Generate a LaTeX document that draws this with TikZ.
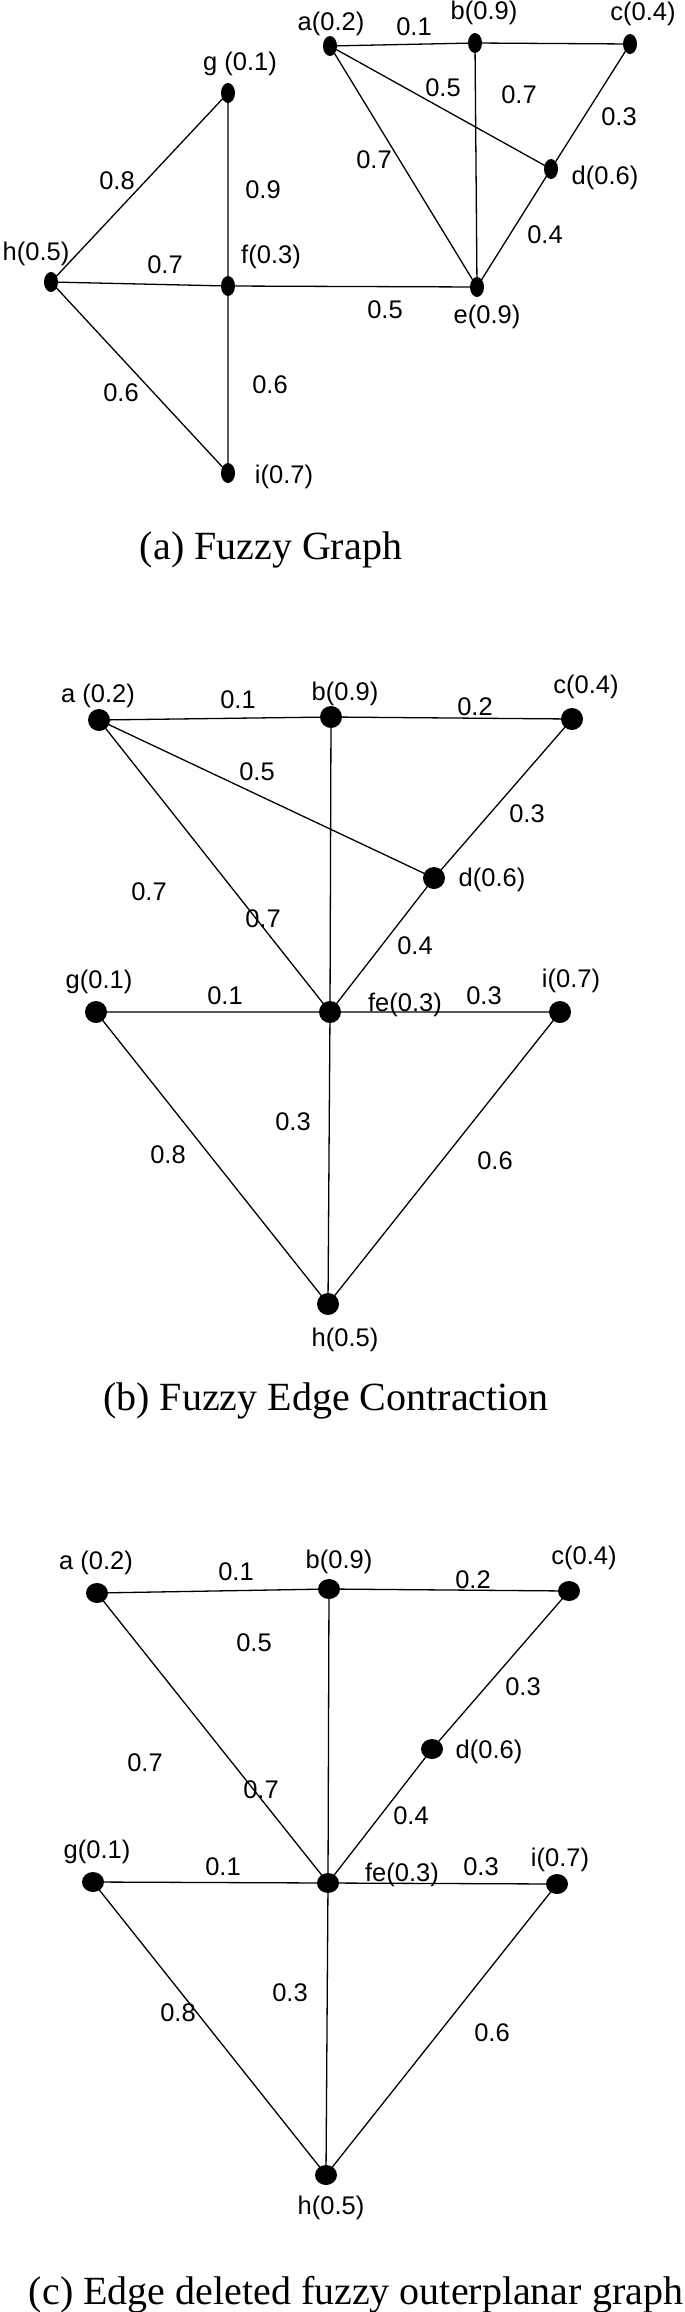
\documentclass[tikz,border=0pt]{standalone}
\usepackage{fontspec}
\setmainfont{Liberation Serif}
\newfontfamily\lblfont{Liberation Sans}
\usetikzlibrary{shapes.geometric}
\begin{document}
\begin{tikzpicture}[x=1pt,y=-1pt,
 edge/.style={line width=1.3pt},
 dotA/.style={ellipse, fill=black, minimum width=14pt, minimum height=20pt, inner sep=0pt},
 dotB/.style={circle, fill=black, minimum size=22pt, inner sep=0pt},
 dotC/.style={ellipse, fill=black, minimum width=22pt, minimum height=20pt, inner sep=0pt},
 lbl/.style={font=\lblfont\fontsize{25.5}{30}\selectfont, inner sep=0pt},
 captext/.style={font=\fontsize{40}{48}\selectfont, inner sep=0pt, anchor=base}]
\useasboundingbox (0,0) rectangle (685,2312);

% ---------------- Panel (a)
\coordinate (pa) at (330,46);
\coordinate (pb) at (475,43);
\coordinate (pc) at (630,44);
\coordinate (pd) at (551,169);
\coordinate (pe) at (477,287);
\coordinate (pf) at (228,286);
\coordinate (pg) at (228,93);
\coordinate (ph) at (51,282);
\coordinate (pi) at (228,473);
\draw[edge] (pa) -- (pb) -- (pc) -- (pd) -- (pe) -- (pf) -- (ph) -- (pg) -- (pf) -- (pi) -- (ph);
\draw[edge] (pa) -- (pe);
\draw[edge] (pa) -- (pd);
\draw[edge] (pb) -- (pe);
\foreach \n in {pa,pb,pc,pd,pe,pf,pg,ph,pi} \node[dotA] (d\n) at (\n) {};

\node[lbl] (la) at (331,24) {a(0.2)};
\node[lbl] (lb) at (484,13) {b(0.9)};
\node[lbl] (lc) at (643,14) {c(0.4)};
\node[lbl] (ld) at (605,178) {d(0.6)};
\node[lbl] (le) at (487,317) {e(0.9)};
\node[lbl] (lf) at (271,257) {f(0.3)};
\node[lbl] (lg) at (240,64) {g (0.1)};
\node[lbl] (lh) at (36,254) {h(0.5)};
\node[lbl] (li) at (284,477) {i(0.7)};
\node[lbl] (wab) at (414,27) {0.1};
\node[lbl] (wad) at (443,88) {0.5};
\node[lbl] (wbe) at (519,95) {0.7};
\node[lbl] (wcd) at (619,117) {0.3};
\node[lbl] (wae) at (374,160) {0.7};
\node[lbl] (wde) at (545,235) {0.4};
\node[lbl] (whg) at (117,181) {0.8};
\node[lbl] (wgf) at (263,190) {0.9};
\node[lbl] (whf) at (165,265) {0.7};
\node[lbl] (wfe) at (385,310) {0.5};
\node[lbl] (whi) at (121,393) {0.6};
\node[lbl] (wfi) at (270,385) {0.6};
\node[captext] (capA) at (271,559) {(a) Fuzzy Graph};

% ---------------- Panel (b)
\coordinate (qa) at (99,720);
\coordinate (qb) at (331,717);
\coordinate (qc) at (572,719);
\coordinate (qd) at (434,878);
\coordinate (qg) at (96,1012);
\coordinate (qfe) at (330,1012);
\coordinate (qi) at (560,1012);
\coordinate (qh) at (328,1304);
\draw[edge] (qa) -- (qb) -- (qc) -- (qd) -- (qfe);
\draw[edge] (qa) -- (qd);
\draw[edge] (qa) -- (qfe);
\draw[edge] (qb) -- (qfe);
\draw[edge] (qg) -- (qfe) -- (qi) -- (qh) -- (qg);
\draw[edge] (qfe) -- (qh);
\foreach \n in {qa,qb,qc,qd,qg,qfe,qi,qh} \node[dotB] (d\n) at (\n) {};

\node[lbl] (ma) at (98,696) {a (0.2)};
\node[lbl] (mb) at (345,694) {b(0.9)};
\node[lbl] (mc) at (586,687) {c(0.4)};
\node[lbl] (md) at (492,880) {d(0.6)};
\node[lbl] (mg) at (99,982) {g(0.1)};
\node[lbl] (mfe) at (405,1005) {fe(0.3)};
\node[lbl] (mi) at (571,981) {i(0.7)};
\node[lbl] (mh) at (345,1340) {h(0.5)};
\node[lbl] (vab) at (238,700) {0.1};
\node[lbl] (vbc) at (475,707) {0.2};
\node[lbl] (vad) at (257,772) {0.5};
\node[lbl] (vcd) at (527,814) {0.3};
\node[lbl] (vl) at (149,892) {0.7};
\node[lbl] (vafe) at (263,919) {0.7};
\node[lbl] (vdfe) at (415,946) {0.4};
\node[lbl] (vgfe) at (225,996) {0.1};
\node[lbl] (vfei) at (484,996) {0.3};
\node[lbl] (vfeh) at (293,1122) {0.3};
\node[lbl] (vgh) at (168,1155) {0.8};
\node[lbl] (vih) at (495,1161) {0.6};
\node[captext] (capB) at (326,1410) {(b) Fuzzy Edge Contraction};

% ---------------- Panel (c)
\coordinate (ra) at (97,1593);
\coordinate (rb) at (329,1589);
\coordinate (rc) at (569,1591);
\coordinate (rd) at (432,1749);
\coordinate (rg) at (93,1882);
\coordinate (rfe) at (328,1883);
\coordinate (ri) at (557,1884);
\coordinate (rh) at (326,2175);
\draw[edge] (ra) -- (rb) -- (rc) -- (rd) -- (rfe);
\draw[edge] (ra) -- (rfe);
\draw[edge] (rb) -- (rfe);
\draw[edge] (rg) -- (rfe) -- (ri) -- (rh) -- (rg);
\draw[edge] (rfe) -- (rh);
\foreach \n in {ra,rb,rc,rd,rg,rfe,ri,rh} \node[dotC] (d\n) at (\n) {};

\node[lbl] (na) at (96,1563) {a (0.2)};
\node[lbl] (nb) at (339,1562) {b(0.9)};
\node[lbl] (nc) at (584,1558) {c(0.4)};
\node[lbl] (nd) at (489,1752) {d(0.6)};
\node[lbl] (ng) at (97,1852) {g(0.1)};
\node[lbl] (nfe) at (402,1875) {fe(0.3)};
\node[lbl] (ni) at (560,1860) {i(0.7)};
\node[lbl] (nh) at (331,2208) {h(0.5)};
\node[lbl] (uab) at (236,1572) {0.1};
\node[lbl] (ubc) at (473,1580) {0.2};
\node[lbl] (u5) at (254,1643) {0.5};
\node[lbl] (ucd) at (523,1687) {0.3};
\node[lbl] (ul) at (145,1763) {0.7};
\node[lbl] (uafe) at (261,1790) {0.7};
\node[lbl] (udfe) at (411,1816) {0.4};
\node[lbl] (ugfe) at (223,1867) {0.1};
\node[lbl] (ufei) at (481,1867) {0.3};
\node[lbl] (ufeh) at (290,1993) {0.3};
\node[lbl] (ugh) at (178,2013) {0.8};
\node[lbl] (uih) at (492,2033) {0.6};
\node[captext] (capC) at (356,2304) {(c) Edge deleted fuzzy outerplanar graph};
\end{tikzpicture}
\end{document}
